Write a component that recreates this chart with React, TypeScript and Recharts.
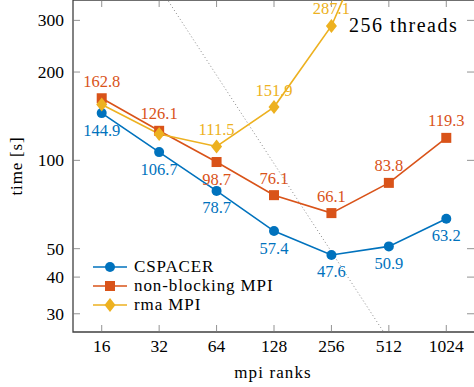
import { LineChart, Line, XAxis, YAxis, LabelList, Legend, ReferenceArea } from 'recharts'

// mpi ranks on the x axis, run time in seconds
const RANKS = [16, 32, 64, 128, 256, 512, 1024]
const CSPACER = [144.9, 106.7, 78.7, 57.4, 47.6, 50.9, 63.2]
const NON_BLOCKING = [162.8, 126.1, 98.7, 76.1, 66.1, 83.8, 119.3]
const RMA = [155, 123, 111.5, 151.9, 287.1, 810, null]
// dotted ideal-scaling guide
const IDEAL = [780, 390, 195, 97.5, 48.8, 24.4, null]
const Y_TICKS = [30, 40, 50, 100, 200, 300]

// where the value is printed (null = not printed)
const CSPACER_LABELS = ['below', 'below', 'below', 'below', 'below', 'below', 'below']
const NON_BLOCKING_LABELS = ['above', 'above', 'below', 'above', 'above', 'above', 'above']
const RMA_LABELS = [null, null, 'above', 'above', 'above', null, null]

const COLORS = {
  blue: '#0072BD',
  orange: '#D95319',
  yellow: '#EDB120',
  axis: '#404040',
  tick: '#777',
  ideal: '#8a8a8a'
}

const FONT = '"Liberation Serif", "DejaVu Serif", serif'
const W = 474
const H = 387
const PLOT_LEFT = 73
const PLOT_TOP = 0
const PLOT_RIGHT = 475
const PLOT_BOTTOM = 332
const X_DOMAIN = [16 / Math.SQRT2, 1024 * Math.SQRT2]
const Y_DOMAIN = [26, 352]

const data = RANKS.map((r, i) => ({
  ranks: r,
  cspacer: CSPACER[i],
  nonBlocking: NON_BLOCKING[i],
  rma: RMA[i],
  ideal: IDEAL[i]
}))

function marker(shape: string, color: string, cx: number, cy: number, key?: any) {
  if (shape === 'circle') return <circle key={key} cx={cx} cy={cy} r={5} fill={color} />
  if (shape === 'square') return <rect key={key} x={cx - 5} y={cy - 5} width={10} height={10} fill={color} />
  return (
    <polygon
      key={key}
      points={`${cx},${cy - 7} ${cx + 5.5},${cy} ${cx},${cy + 7} ${cx - 5.5},${cy}`}
      fill={color}
    />
  )
}

const dotRenderer = (shape: string, color: string) => (p: any) => {
  if (p.cx == null || p.cy == null || p.value == null) return <g key={`d-${p.index}`} />
  return marker(shape, color, p.cx, p.cy, `d-${p.index}`)
}

const labelRenderer = (positions: (string | null)[], color: string) => (p: any) => {
  const pos = positions[p.index]
  const vb = p.viewBox || {}
  const x = p.x ?? vb.x
  const y = p.y ?? vb.y
  if (!pos || x == null || y == null) return null
  return (
    <text
      x={x}
      y={y + (pos === 'above' ? -17 : 17)}
      textAnchor="middle"
      dominantBaseline="central"
      fill={color}
      fontSize={16.5}
      fontFamily={FONT}
    >
      {p.value}
    </text>
  )
}

function XTick({ x, payload }: any) {
  return (
    <g>
      <line x1={x} x2={x} y1={PLOT_BOTTOM} y2={PLOT_BOTTOM - 7} stroke={COLORS.tick} strokeWidth={0.8} />
      <line x1={x} x2={x} y1={PLOT_TOP} y2={PLOT_TOP + 7} stroke={COLORS.tick} strokeWidth={0.8} />
      <text x={x} y={PLOT_BOTTOM + 14} textAnchor="middle" dominantBaseline="central" fill="#000" fontSize={17.5} fontFamily={FONT}>
        {payload.value}
      </text>
    </g>
  )
}

function YTick({ y, payload }: any) {
  return (
    <g>
      <line x1={PLOT_LEFT} x2={PLOT_LEFT + 7} y1={y} y2={y} stroke={COLORS.tick} strokeWidth={0.8} />
      <line x1={PLOT_RIGHT - 8} x2={PLOT_RIGHT} y1={y} y2={y} stroke={COLORS.tick} strokeWidth={0.8} />
      <text x={PLOT_LEFT - 9} y={y} textAnchor="end" dominantBaseline="central" fill="#000" fontSize={17.5} fontFamily={FONT}>
        {payload.value}
      </text>
    </g>
  )
}

function YLabel({ viewBox }: any) {
  const cx = 16
  const cy = viewBox.y + viewBox.height / 2
  return (
    <text
      x={cx}
      y={cy}
      transform={`rotate(-90, ${cx}, ${cy})`}
      textAnchor="middle"
      dominantBaseline="central"
      fill="#000"
      fontSize={17}
      letterSpacing={0.8}
      fontFamily={FONT}
    >
      time [s]
    </text>
  )
}

function XLabel({ viewBox }: any) {
  return (
    <text
      x={viewBox.x + viewBox.width / 2 - 1}
      y={372}
      textAnchor="middle"
      dominantBaseline="central"
      fill="#000"
      fontSize={17}
      letterSpacing={1.1}
      fontFamily={FONT}
    >
      mpi ranks
    </text>
  )
}

const LEGEND_ITEMS = [
  { name: 'CSPACER', shape: 'circle', color: COLORS.blue },
  { name: 'non-blocking MPI', shape: 'square', color: COLORS.orange },
  { name: 'rma MPI', shape: 'diamond', color: COLORS.yellow }
]

function LegendBox() {
  return (
    <div style={{ fontFamily: FONT, fontSize: 17, letterSpacing: 0.9, color: '#000' }}>
      {LEGEND_ITEMS.map(item => (
        <div key={item.name} style={{ display: 'flex', alignItems: 'center', height: 18.7 }}>
          <svg width={40} height={16} style={{ display: 'block' }}>
            <line x1={2} x2={36} y1={8} y2={8} stroke={item.color} strokeWidth={1.6} />
            {marker(item.shape, item.color, 19, 8)}
          </svg>
          <span style={{ marginLeft: 3, whiteSpace: 'nowrap', lineHeight: '18px' }}>{item.name}</span>
        </div>
      ))}
    </div>
  )
}

export default function App() {
  return (
    <div style={{ position: 'absolute', left: 0, top: 0, width: W, height: H, background: '#fff', overflow: 'hidden' }}>
      <LineChart
        width={W}
        height={H}
        data={data}
        margin={{ top: PLOT_TOP, right: W - PLOT_RIGHT, bottom: 0, left: 0 }}
      >
        <XAxis
          dataKey="ranks"
          type="number"
          scale="log"
          domain={X_DOMAIN}
          ticks={RANKS}
          tick={<XTick />}
          tickLine={false}
          axisLine={false}
          height={H - PLOT_BOTTOM}
          label={<XLabel />}
        />
        <YAxis
          type="number"
          scale="log"
          domain={Y_DOMAIN}
          allowDataOverflow
          ticks={Y_TICKS}
          tick={<YTick />}
          tickLine={false}
          axisLine={false}
          width={PLOT_LEFT}
          label={<YLabel />}
        />
        <ReferenceArea
          x1={X_DOMAIN[0]}
          x2={X_DOMAIN[1]}
          y1={Y_DOMAIN[0]}
          y2={Y_DOMAIN[1]}
          fill="none"
          stroke={COLORS.axis}
          strokeWidth={1.3}
          ifOverflow="visible"
        />
        <Line
          dataKey="ideal"
          stroke={COLORS.ideal}
          strokeWidth={1}
          strokeDasharray="1 2.5"
          dot={false}
          activeDot={false}
          legendType="none"
          isAnimationActive={false}
        />
        <Line
          dataKey="cspacer"
          name="CSPACER"
          stroke={COLORS.blue}
          strokeWidth={1.6}
          dot={dotRenderer('circle', COLORS.blue)}
          isAnimationActive={false}
        >
          <LabelList dataKey="cspacer" content={labelRenderer(CSPACER_LABELS, COLORS.blue)} />
        </Line>
        <Line
          dataKey="nonBlocking"
          name="non-blocking MPI"
          stroke={COLORS.orange}
          strokeWidth={1.6}
          dot={dotRenderer('square', COLORS.orange)}
          isAnimationActive={false}
        >
          <LabelList dataKey="nonBlocking" content={labelRenderer(NON_BLOCKING_LABELS, COLORS.orange)} />
        </Line>
        <Line
          dataKey="rma"
          name="rma MPI"
          stroke={COLORS.yellow}
          strokeWidth={1.6}
          dot={dotRenderer('diamond', COLORS.yellow)}
          isAnimationActive={false}
        >
          <LabelList dataKey="rma" content={labelRenderer(RMA_LABELS, COLORS.yellow)} />
        </Line>
        <Legend
          layout="vertical"
          align="center"
          verticalAlign="middle"
          content={() => <LegendBox />}
          wrapperStyle={{ left: 91, top: 258, width: 200, height: 60 }}
        />
      </LineChart>
      <div
        style={{
          position: 'absolute',
          left: 349,
          top: 13,
          fontFamily: FONT,
          fontSize: 20,
          letterSpacing: 1.5,
          color: '#000',
          whiteSpace: 'nowrap',
          lineHeight: '24px'
        }}
      >
        256 threads
      </div>
    </div>
  )
}
